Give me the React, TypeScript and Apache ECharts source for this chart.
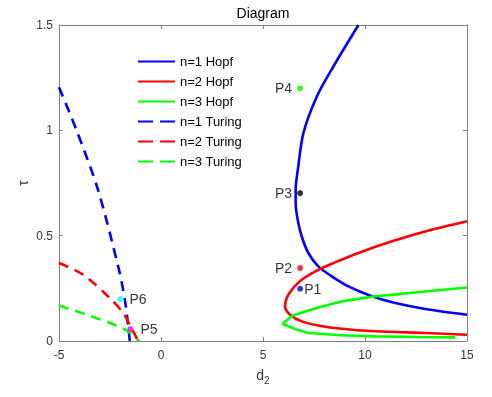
import { useEffect, useRef } from "react";
import * as echarts from "echarts";

// Hopf curves (d2, tau)
const hopf1D2 = [9.68, 8.45, 7.64, 6.98, 6.73, 6.6, 6.6, 6.7, 6.9, 7.22, 7.71, 8.37, 9.19, 10.34, 11.48, 12.95, 15.0];
const hopf1Tau = [1.5, 1.303, 1.161, 0.987, 0.829, 0.718, 0.655, 0.576, 0.496, 0.418, 0.354, 0.307, 0.259, 0.212, 0.18, 0.152, 0.125];

const hopf2D2 = [15.0, 12.95, 11.32, 9.68, 8.53, 7.71, 6.9, 6.41, 6.16, 6.08, 6.33, 6.9, 7.71, 8.86, 10.5, 12.95, 15.0];
const hopf2Tau = [0.568, 0.52, 0.473, 0.418, 0.373, 0.338, 0.291, 0.243, 0.204, 0.164, 0.125, 0.093, 0.074, 0.058, 0.046, 0.038, 0.03];

const hopf3D2 = [15.0, 12.95, 10.5, 8.86, 7.8, 6.49, 5.95, 6.57, 7.22, 8.86, 10.5, 12.5, 14.43];
const hopf3Tau = [0.254, 0.235, 0.212, 0.188, 0.161, 0.122, 0.082, 0.057, 0.038, 0.027, 0.022, 0.019, 0.017];

// Turing curves (d2, tau)
const turing1D2 = [-5.0, -4.15, -3.09, -2.1, -1.77, -1.53];
const turing1Tau = [1.204, 1.003, 0.718, 0.354, 0.196, 0.0];

const turing2D2 = [-5.0, -3.82, -2.51, -1.86, -1.45, -1.12];
const turing2Tau = [0.37, 0.315, 0.204, 0.133, 0.062, 0.0];

const turing3D2 = [-5.0, -3.65, -2.18, -1.61, -1.07];
const turing3Tau = [0.168, 0.125, 0.073, 0.046, 0.0];

// Marked points
const pointNames = ["P1", "P2", "P3", "P4", "P5", "P6"];
const pointD2 = [6.82, 6.82, 6.82, 6.82, -1.5, -1.99];
const pointTau = [0.248, 0.346, 0.702, 1.199, 0.057, 0.199];

const seriesNames = ["n=1 Hopf", "n=2 Hopf", "n=3 Hopf", "n=1 Turing", "n=2 Turing", "n=3 Turing"];

const xTickMin = -5;
const xTickMax = 15;
const xTickStep = 5;
const yTickMin = 0;
const yTickMax = 1.5;
const yTickStep = 0.5;

// styles
const pointColors = ["#0000ff", "#ff0000", "#000000", "#00ff00", "#ff00ff", "#00ffff"];
const pointLabelPos = ["right", "left", "left", "left", "right", "right"];
const pointLabelDist = [1, 5, 5, 5, 7, 6];
const BLUE = "#0000ff";
const RED = "#ff0000";
const GREEN = "#00ff00";
const FONT = "'Liberation Sans', Arial, sans-serif";
const AXIS_COLOR = "#808080";

const zip = (xs: number[], ys: number[]) => xs.map((x, i) => [x, ys[i]]);

export default function App() {
  const ref = useRef<HTMLDivElement>(null);
  useEffect(() => {
    if (!ref.current) return;
    const chart = echarts.init(ref.current, null, { renderer: "svg" });
    const lw = 2.6;
    const dash = [10, 7];
    const mkLine = (name: string, xs: number[], ys: number[], color: string, dashed: boolean, smooth: number | boolean) => ({
      name,
      type: "line",
      data: zip(xs, ys),
      symbol: "none",
      showSymbol: false,
      smooth,
      clip: true,
      lineStyle: { color, width: lw, type: dashed ? dash : "solid" },
      itemStyle: { color },
      z: 2,
    });
    const axisCommon = {
      type: "value",
      splitLine: { show: false },
      axisLine: { show: true, onZero: false, lineStyle: { color: AXIS_COLOR, width: 1 } },
      axisTick: { show: true, inside: true, length: 4, lineStyle: { color: AXIS_COLOR } },
    };
    chart.setOption({
      animation: false,
      textStyle: { fontFamily: FONT },
      title: {
        text: "Diagram",
        left: 263,
        textAlign: "center",
        top: 6,
        padding: 0,
        textStyle: { fontSize: 14, fontWeight: "normal", color: "#000", fontFamily: FONT },
      },
      grid: { left: 59, right: 25, top: 25, bottom: 56, containLabel: false },
      legend: {
        orient: "vertical",
        left: 137,
        top: 55,
        itemWidth: 37,
        itemHeight: 14,
        itemGap: 7,
        padding: 0,
        itemStyle: { opacity: 0 },
        textStyle: { fontSize: 13, color: "#000", fontFamily: FONT },
        data: seriesNames.map((n, i) => ({
          name: n,
          lineStyle: i >= 3 ? { type: [15, 7] } : undefined,
        })),
      },
      xAxis: [
        {
          ...axisCommon,
          min: xTickMin,
          max: xTickMax,
          interval: xTickStep,
          position: "bottom",
          axisLabel: { fontSize: 12, color: "#333", margin: 8, fontFamily: FONT },
          name: "{d|d}{s|2}",
          nameLocation: "middle",
          nameGap: 24,
          nameTextStyle: {
            rich: {
              d: { fontSize: 14, color: "#333", fontFamily: FONT },
              s: { fontSize: 10, color: "#333", fontFamily: FONT, padding: [10, 0, 0, 0] },
            },
          },
        },
        {
          ...axisCommon,
          min: xTickMin,
          max: xTickMax,
          interval: xTickStep,
          position: "top",
          axisLabel: { show: false },
        },
      ],
      yAxis: [
        {
          ...axisCommon,
          min: yTickMin,
          max: yTickMax,
          interval: yTickStep,
          position: "left",
          axisLabel: { fontSize: 12, color: "#333", margin: 6, fontFamily: FONT },
          name: "τ",
          nameLocation: "middle",
          nameGap: 36,
          nameMoveOverlap: false,
          nameRotate: 90,
          nameTextStyle: { fontSize: 14, color: "#333", fontFamily: FONT, align: "center", verticalAlign: "middle" },
        },
        {
          ...axisCommon,
          min: yTickMin,
          max: yTickMax,
          interval: yTickStep,
          position: "right",
          axisLabel: { show: false },
        },
      ],
      series: [
        mkLine(seriesNames[0], hopf1D2, hopf1Tau, BLUE, false, 0.3),
        mkLine(seriesNames[1], hopf2D2, hopf2Tau, RED, false, 0.3),
        mkLine(seriesNames[2], hopf3D2, hopf3Tau, GREEN, false, false),
        mkLine(seriesNames[3], turing1D2, turing1Tau, BLUE, true, 0.3),
        mkLine(seriesNames[4], turing2D2, turing2Tau, RED, true, 0.3),
        mkLine(seriesNames[5], turing3D2, turing3Tau, GREEN, true, 0.3),
        {
          name: "points",
          type: "scatter",
          symbolSize: 6,
          z: 5,
          data: pointNames.map((n, i) => ({
            name: n,
            value: [pointD2[i], pointTau[i]],
            itemStyle: { color: pointColors[i] },
            label: {
              show: true,
              position: pointLabelPos[i],
              distance: pointLabelDist[i],
              formatter: "{b}",
              fontSize: 14,
              color: "#000",
              fontFamily: FONT,
            },
          })),
        },
      ],
    });
    return () => chart.dispose();
  }, []);
  return <div ref={ref} style={{ position: "fixed", left: 0, top: 0, width: 492, height: 397 }} />;
}
